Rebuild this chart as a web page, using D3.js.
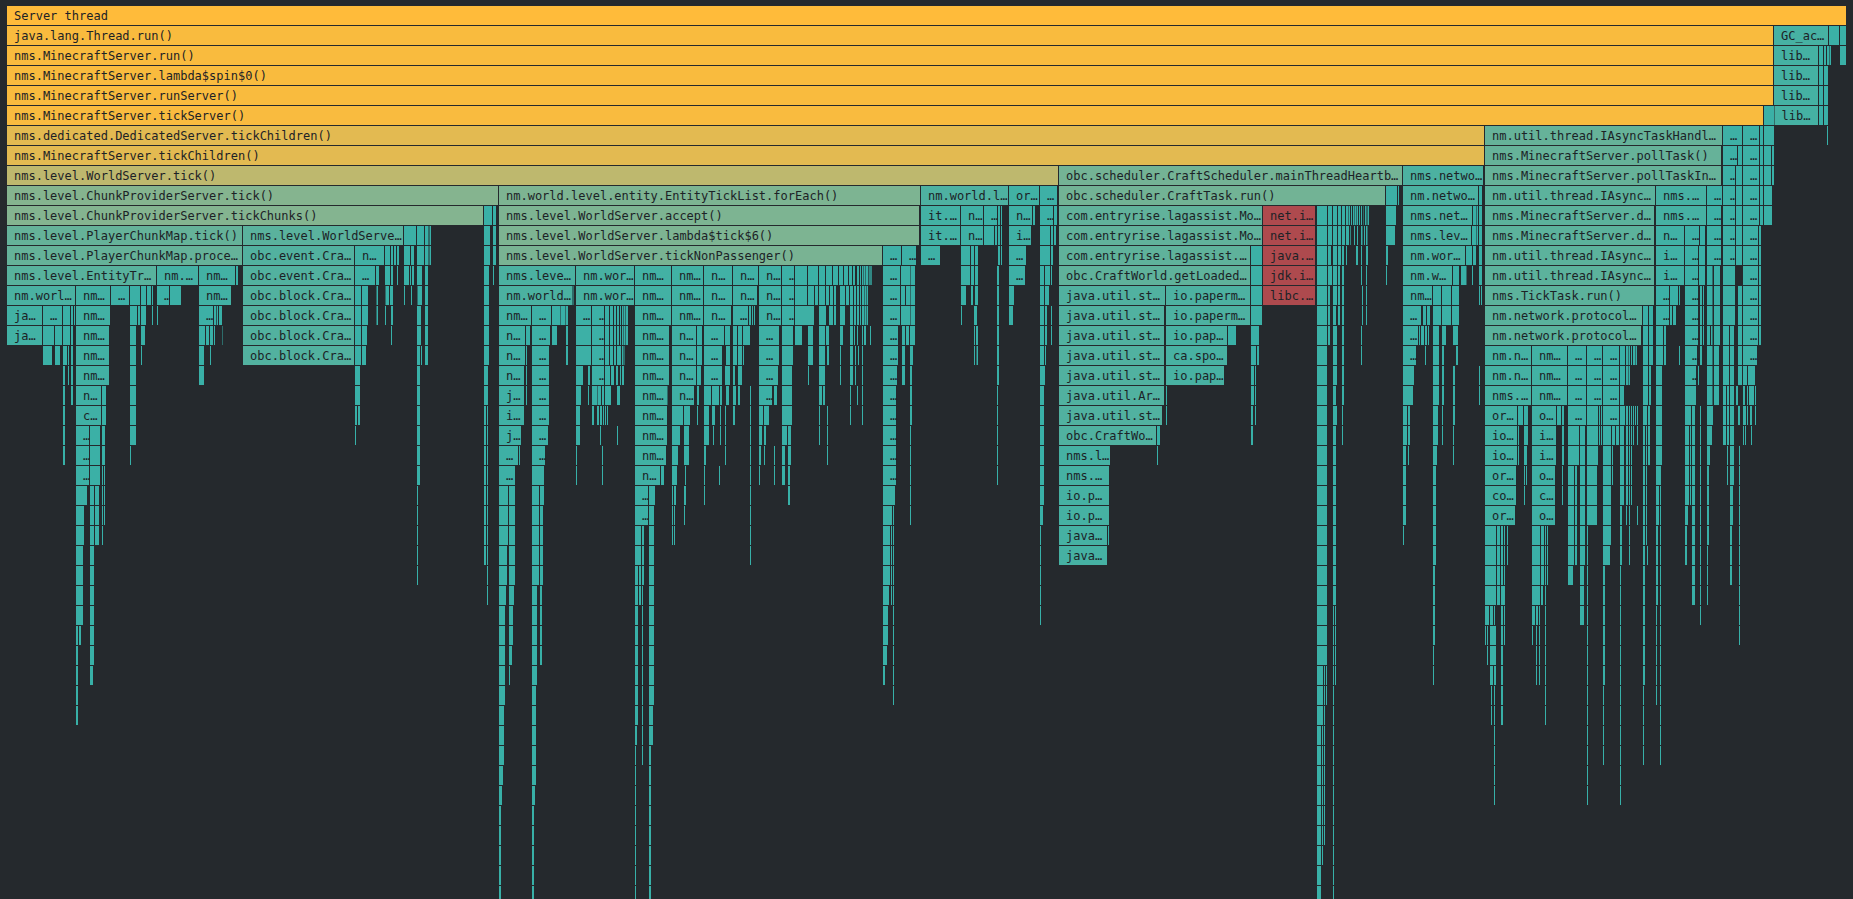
<!DOCTYPE html>
<html>
<head>
<meta charset="utf-8">
<title>Flame graph</title>
<script src="https://cdn.jsdelivr.net/npm/d3@7"></script>
<style>
  html, body { margin: 0; padding: 0; background: #25292d; overflow: hidden; }
  svg { display: block; }
</style>
</head>
<body>
<svg id="flame"></svg>
<script>
// one list per stack depth: [first sample, last sample, label]
const totalSamples = 1839

const row00 = [[0,1839,"Server thread"]]
const row01 = [[0,1766,"java.lang.Thread.run()"],[1767,1821,"GC_ac…"],[1822,1832],[1833,1839]]
const row02 = [[0,1766,"nms.MinecraftServer.run()"],[1767,1811,"lib…"],[1812,1816],[1817,1819],[1820,1822],[1822.5,1824],[1833,1839]]
const row03 = [[0,1766,"nms.MinecraftServer.lambda$spin$0()"],[1767,1811,"lib…"],[1812,1816],[1817,1821]]
const row04 = [[0,1766,"nms.MinecraftServer.runServer()"],[1767,1811,"lib…"],[1812,1816],[1817,1821]]
const row05 = [[0,1756,"nms.MinecraftServer.tickServer()"],[1757,1767],[1767.5,1811,"lib…"],[1812,1816],[1817,1821]]
const row06 = [[0,1477,"nms.dedicated.DedicatedServer.tickChildren()"],[1478,1715,"nm.util.thread.IAsyncTaskHandl…"],[1716,1735,"…"],[1736,1752,"…"],[1753,1756],[1757,1767],[1820,1821]]
const row07 = [[0,1477,"nms.MinecraftServer.tickChildren()"],[1478,1714,"nms.MinecraftServer.pollTask()"],[1716,1730,"…"],[1731,1735],[1736,1752,"…"],[1753,1756],[1757,1764],[1765,1767]]
const row08 = [[0,1051,"nms.level.WorldServer.tick()"],[1052,1395,"obc.scheduler.CraftScheduler.mainThreadHeartb…"],[1396,1476,"nms.netwo…"],[1478,1714,"nms.MinecraftServer.pollTaskIn…"],[1716,1728,"…"],[1729,1735],[1736,1752,"…"],[1753,1756],[1757,1764],[1765,1767]]
const row09 = [[0,491,"nms.level.ChunkProviderServer.tick()"],[492,913,"nm.world.level.entity.EntityTickList.forEach()"],[914,1001,"nm.world.l…"],[1002,1032,"or…"],[1033,1050,"…"],[1052,1378,"obc.scheduler.CraftTask.run()"],[1379,1390],[1391,1392],[1396,1471,"nm.netwo…"],[1472,1475],[1478,1648,"nm.util.thread.IAsync…"],[1649,1699,"nms.…"],[1700,1715,"…"],[1716,1728,"…"],[1729,1735],[1736,1752,"…"],[1753,1756],[1757,1765]]
const row10 = [[0,476,"nms.level.ChunkProviderServer.tickChunks()"],[477,485],[486,489],[492,912,"nms.level.WorldServer.accept()"],[914,953,"it.…"],[954,976,"n…"],[977,990,"…"],[991,993],[994,995],[1002,1025,"n…"],[1026,1028],[1033,1046,"…"],[1047,1050],[1052,1255,"com.entryrise.lagassist.Mo…"],[1256,1308,"net.i…"],[1310,1320],[1321,1325],[1326,1330],[1331,1334],[1335,1338],[1339,1341],[1341.5,1343],[1344,1345],[1346,1347.5],[1348,1349.5],[1350,1351],[1352,1353],[1354,1355],[1356,1356.5],[1358,1359],[1359.5,1360.5],[1361,1362],[1379,1389],[1396,1465,"nms.net…"],[1466,1469],[1469.5,1471],[1472,1475],[1478,1647,"nms.MinecraftServer.d…"],[1649,1699,"nms.…"],[1700,1714,"…"],[1716,1728,"…"],[1729,1735],[1736,1752,"…"],[1753,1756],[1757,1765]]
const row11 = [[0,235,"nms.level.PlayerChunkMap.tick()"],[236,396,"nms.level.WorldServe…"],[397,409],[410,417],[418,421],[421.5,422.5],[423,424],[477,483],[486,489],[492,912,"nms.level.WorldServer.lambda$tick$6()"],[914,953,"it.…"],[954,976,"n…"],[977,987],[988,990],[991,993],[994,995],[1002,1024,"i…"],[1033,1043],[1044,1046],[1047,1049],[1052,1255,"com.entryrise.lagassist.Mo…"],[1256,1308,"net.i…"],[1310,1320],[1321,1325],[1326,1330],[1331,1334],[1335,1338],[1339,1342],[1343,1343.7],[1347,1348],[1350,1351],[1354,1355.5],[1357,1358],[1359,1360.5],[1379,1388],[1396,1464,"nms.lev…"],[1465,1469],[1469.5,1471],[1472,1475],[1478,1647,"nms.MinecraftServer.d…"],[1649,1677,"n…"],[1678,1692,"…"],[1693,1698],[1700,1714,"…"],[1716,1728,"…"],[1729,1735],[1736,1751,"…"],[1752,1754]]
const row12 = [[0,235,"nms.level.PlayerChunkMap.proce…"],[236,347,"obc.event.Cra…"],[348,377,"n…"],[378,383],[384,386],[387,389],[390,392],[397,403],[404,407],[410,417],[418,421],[421.5,422.5],[423,424],[477,483],[486,489],[492,875,"nms.level.WorldServer.tickNonPassenger()"],[876,894,"…"],[895,909,"…"],[914,933,"…"],[954,963],[964,967],[968,971],[991,993],[994,995],[1002,1019,"…"],[1033,1043],[1044,1046],[1052,1243,"com.entryrise.lagassist.…"],[1244,1255],[1256,1308,"java.…"],[1310,1320],[1321,1324],[1326,1330],[1331,1334],[1335,1337],[1339,1340],[1349,1351],[1354,1355],[1359,1361],[1379,1381],[1396,1458,"nm.wor…"],[1459,1465],[1466,1469],[1472,1475],[1478,1647,"nm.util.thread.IAsync…"],[1649,1677,"i…"],[1678,1691,"…"],[1692,1698],[1700,1714,"…"],[1716,1728,"…"],[1729,1735],[1736,1751,"…"],[1752,1754]]
const row13 = [[0,149,"nms.level.EntityTr…"],[150,191,"nm.…"],[192,228,"nm…"],[229,231],[236,347,"obc.event.Cra…"],[348,368,"…"],[369,372],[378,383],[384,386],[390,391],[397,402],[403,404],[405,407],[410,415],[418,421],[477,482],[486,487],[492,568,"nms.leve…"],[569,627,"nm.wor…"],[628,664,"nm…"],[665,696,"nm…"],[697,725,"n…"],[726,751,"n…"],[752,774,"n…"],[775,787,"…"],[788,800],[801,811],[812,818],[819,825],[826,831],[832,836],[837,841],[842,845],[846,848],[850,852],[853,854],[855,856.5],[857,858.5],[859,861],[861.7,862.7],[863.3,864.7],[876,893,"…"],[894,903],[903.5,908],[954,963],[964,967],[968,971],[990,992],[1002,1018,"…"],[1033,1037],[1038,1043],[1044,1045],[1052,1243,"obc.CraftWorld.getLoaded…"],[1244,1255],[1256,1308,"jdk.i…"],[1310,1320],[1321,1325],[1326,1330],[1331,1333],[1335,1337],[1354,1355],[1359,1360],[1379,1380],[1396,1445,"nm.w…"],[1446,1452],[1454,1459],[1459.5,1460],[1465,1466],[1472,1475],[1478,1647,"nm.util.thread.IAsync…"],[1649,1677,"i…"],[1678,1691,"…"],[1692,1698],[1700,1705.5],[1707,1713],[1716,1728],[1736,1751,"…"],[1752,1754]]
const row14 = [[0,68,"nm.worl…"],[69,103,"nm…"],[104,122,"…"],[123,133],[134,139],[140,144],[145,146],[150,162,"…"],[163,174],[192,224,"nm…"],[236,347,"obc.block.Cra…"],[348,354],[355,361],[369.5,371],[378.5,382],[383,386],[397,398],[404,405],[410.5,415],[418,421],[477,482],[492,565,"nm.world…"],[565.5,566.5],[569,627,"nm.wor…"],[628,664,"nm…"],[665,696,"nm…"],[697,725,"n…"],[726,750,"n…"],[752,774,"n…"],[775,787,"…"],[788,800],[801,807],[808,811],[812,818],[819,822],[823,826],[827,829],[833,838],[839,842],[843,846],[847,849],[850,852],[853,854],[855,857],[857.5,859],[859.5,861],[876,893,"…"],[894,898],[899,903],[903.5,908],[954,959],[964,966],[968,971],[990,992],[1002,1007],[1033,1037],[1038,1042],[1052,1158,"java.util.st…"],[1159,1243,"io.paperm…"],[1244,1255],[1256,1308,"libc.…"],[1310,1320],[1321,1323],[1326,1330],[1331,1333],[1335,1337],[1355,1356],[1359,1360],[1396,1425,"nm…"],[1426,1434],[1435,1444],[1445,1452],[1472,1473],[1474,1475],[1478,1647,"nms.TickTask.run()"],[1649,1662,"…"],[1663,1671],[1672,1673],[1678,1691,"…"],[1693,1695],[1696,1697],[1700,1705.5],[1707,1713],[1716,1728],[1731,1735],[1736,1751,"…"],[1752,1754]]
const row15 = [[0,35,"ja…"],[36,55,"…"],[56,63],[64,66],[67,68],[69,103,"nm…"],[123,130],[131,133],[134,139],[145,146],[150,151],[192,206,"…"],[207,209],[209.7,211],[212,215],[236,347,"obc.block.Cra…"],[348,354],[355,361],[369.5,371],[378,379],[384,386],[410,414],[418,421],[477,482],[492,524,"nm…"],[525,544,"…"],[545,553],[553.5,558],[558.5,561],[569,584,"…"],[585,597,"…"],[598,602],[603,606],[607,609],[610,612],[613,614],[615,616],[616.5,618],[618.5,621],[628,664,"nm…"],[665,696,"nm…"],[697,724,"n…"],[726,741,"…"],[742,744],[745,746],[747,748],[752,774,"n…"],[775,787,"…"],[788,807],[812,819],[822,826],[827,829],[833,838],[843,846],[847,849],[850,852],[853,854],[855,857],[857.5,859],[859.5,861],[876,893,"…"],[894,903],[903.5,908],[954,955],[967,970],[990,992],[1002,1006],[1033,1037],[1038,1040],[1044,1045],[1052,1157,"java.util.st…"],[1159,1243,"io.paperm…"],[1244,1255],[1310,1320],[1321,1323],[1326,1329],[1331,1333],[1335,1337],[1355,1356],[1359,1360],[1396,1414,"…"],[1416,1419],[1420,1423],[1426,1434],[1435,1444],[1445,1452],[1478,1635,"nm.network.protocol…"],[1636,1641],[1642,1646],[1649,1662,"…"],[1663,1665],[1666,1669],[1678,1691,"…"],[1693,1695],[1696,1697],[1700,1705.5],[1707,1713],[1716,1728],[1731,1735],[1736,1751,"…"],[1752,1754]]
const row16 = [[0,35,"ja…"],[36,47],[48,55],[56,63],[64,66],[69,102,"nm…"],[123,129],[134,138],[192,198],[199,202],[203,206],[207,208],[215.5,216],[236,347,"obc.block.Cra…"],[348,354],[355,360],[384,385],[410,414],[418,421],[477,482],[492,518,"n…"],[519,523],[525,543,"…"],[545,550],[559,561],[569,584],[585,597,"…"],[598,602],[603,606],[607,609],[610,612],[613,614],[615,616],[616.5,618],[618.5,621],[628,662,"nm…"],[665,689,"n…"],[690,695],[697,717,"…"],[718,723],[726,730],[731,735],[736,743],[752,772,"…"],[775,786],[788,795],[801,806],[812,818],[819,822],[833,836],[843,846],[847,848],[850,851],[855,856],[857,859],[863,864],[876,891,"…"],[895,898],[899,902],[903,908],[967,968],[969,971],[990,992],[1033,1037],[1038,1040],[1044,1045],[1052,1157,"java.util.st…"],[1159,1220,"io.pap…"],[1221,1229],[1244,1252],[1310,1320],[1321,1323],[1326,1330],[1335,1337],[1354,1355],[1396,1411,"…"],[1412,1413],[1414,1417],[1418,1420],[1421,1422],[1426,1432],[1435,1439],[1446,1451],[1478,1634,"nm.network.protocol…"],[1636,1641],[1642,1646],[1649,1656],[1657,1659],[1678,1691,"…"],[1693,1695],[1696,1697],[1700,1703],[1704,1705.5],[1707,1713],[1716,1722],[1723,1727],[1731,1735],[1736,1751,"…"],[1752,1754]]
const row17 = [[36,45],[48,53],[56,60],[61,62],[64,66],[69,102,"nm…"],[123,129],[134,135],[192,197],[203,204],[236,347,"obc.block.Cra…"],[348,354],[355,359],[410,413],[414,415],[418,421],[477,482],[492,518,"n…"],[519,520],[525,542,"…"],[559,561],[569,584],[585,597,"…"],[598,602],[603,606],[607,609],[610,614],[615,616],[616.5,617.5],[628,662,"nm…"],[665,689,"n…"],[690,695],[697,715,"…"],[719,723],[726,730],[731,735],[736,737],[752,772,"…"],[775,786],[801,806],[812,818],[820,822],[833,834],[843,846],[848,849],[851,852],[855,856],[876,891,"…"],[895,898],[903,906],[967,968],[969.5,971],[990,992],[1033,1037],[1038,1039],[1052,1157,"java.util.st…"],[1159,1220,"ca.spo…"],[1244,1249],[1250,1252],[1310,1320],[1326,1330],[1335,1337],[1354,1355],[1396,1409,"…"],[1418,1419],[1426,1432],[1435,1437],[1449,1451],[1478,1524,"nm.n…"],[1525,1560,"nm…"],[1561,1579,"…"],[1580,1595,"…"],[1596,1612,"…"],[1613,1618],[1619,1621],[1621.5,1623],[1624,1625],[1626,1628],[1628.5,1630],[1636,1641],[1642,1646],[1649,1656],[1657,1659],[1672,1673],[1678,1690,"…"],[1693,1695],[1700,1705.5],[1707,1712],[1716,1722],[1723,1727],[1731,1735],[1736,1750,"…"]]
const row18 = [[56,58],[61,62],[64,66],[69,102,"nm…"],[123,129],[192,197],[348,353],[410,413],[477,481],[492,517,"n…"],[519,520],[525,542,"…"],[569,576],[581,583],[585,597,"…"],[598,603],[604,607],[609,611],[613,614],[615,617],[628,662,"nm…"],[665,689,"n…"],[690,694],[697,715,"…"],[718,723],[726,728],[731,735],[752,771,"…"],[775,785],[801,802],[812,818],[833,834],[843,846],[848,849],[855,856],[876,890,"…"],[895,898],[903,905],[990,992],[1033,1038],[1052,1157,"java.util.st…"],[1159,1217,"io.pap…"],[1244,1247],[1248,1249],[1310,1320],[1326,1330],[1335,1337],[1396,1407],[1426,1432],[1435,1437],[1446,1448],[1472,1473],[1478,1524,"nm.n…"],[1525,1560,"nm…"],[1561,1579,"…"],[1580,1595,"…"],[1596,1612,"…"],[1613,1618],[1619,1621],[1621.5,1623],[1636,1641],[1642,1644],[1649,1655],[1678,1689,"…"],[1691,1692],[1700,1705.5],[1707,1712],[1716,1722],[1723,1727],[1731,1735],[1736,1740],[1741,1748]]
const row19 = [[56,58],[64,66],[69,94,"n…"],[95,99],[123,129],[348,353],[410,413],[477,481],[492,517,"j…"],[519,520],[525,542,"…"],[569,574],[581,582],[585,590],[590.5,594],[595,597],[598,604],[610,613],[628,660,"nm…"],[660.5,661],[665,687,"n…"],[690,692],[697,704],[705,712],[713,715],[719,722],[726,729],[731,733],[743,744],[752,765,"…"],[767,770],[775,785],[812,815],[816,818],[843,844],[850,851],[855,856],[876,889,"…"],[903,905],[990,991],[1033,1037],[1052,1157,"java.util.Ar…"],[1159,1160],[1244,1247],[1248,1249],[1310,1320],[1326,1329],[1335,1337],[1396,1406],[1426,1432],[1435,1437],[1446,1448],[1472,1473],[1478,1524,"nms.…"],[1525,1560,"nm…"],[1561,1579,"…"],[1580,1595,"…"],[1596,1612,"…"],[1613,1617],[1636,1641],[1642,1644],[1649,1655],[1678,1689],[1700,1705.5],[1707,1712],[1716,1719],[1720,1722],[1723,1727],[1729,1731],[1736,1738],[1740,1741],[1742,1747],[1748,1749]]
const row20 = [[56,58],[69,94,"c…"],[95,99],[123,129],[348,350],[351,353],[410,413],[477,479],[480,481],[492,517,"i…"],[525,542,"…"],[569,573],[585,587],[590,592],[593,595],[596,597],[598,599],[600,601],[628,660,"nm…"],[665,676],[677,683],[690,691],[697,702],[705,708],[713,714],[718,719],[726,728],[743,744],[752,756],[757,762],[775,785],[812,813],[820,821],[843,844],[855,856],[876,889,"…"],[903,905],[990,991],[1033,1037],[1052,1155,"java.util.st…"],[1159,1160],[1244,1246],[1248,1249],[1310,1320],[1326,1330],[1335,1336],[1396,1400],[1401,1403],[1426,1431],[1435,1436],[1446,1448],[1478,1510,"or…"],[1511,1516],[1517,1521],[1525,1549,"o…"],[1550,1554],[1555,1557],[1561,1579,"…"],[1580,1591],[1592,1593],[1594,1595],[1596,1612,"…"],[1613,1618],[1619,1621],[1622,1623],[1624,1625],[1626,1627],[1628,1629],[1630,1631],[1636,1640],[1641,1643],[1649,1655],[1678,1684],[1685,1688],[1693,1694],[1700,1706],[1716,1719],[1720,1722],[1723,1727],[1731,1733],[1736,1739],[1740,1741],[1743,1745],[1748,1749]]
const row21 = [[56,58],[69,82,"…"],[83,93],[95,98],[123,129],[348,349],[410,413],[477,479],[480,481],[492,514,"j…"],[525,541,"…"],[569,573],[593,594],[610,611],[628,660,"nm…"],[665,673],[677,682],[697,702],[706,707],[713,714],[718,719],[743,744],[752,755],[757,759],[775,780],[781,784],[812,813],[820,821],[876,889,"…"],[903,904],[990,991],[1033,1037],[1052,1149,"obc.CraftWo…"],[1150,1153],[1244,1246],[1310,1320],[1326,1329],[1335,1336],[1396,1400],[1401,1403],[1426,1431],[1435,1436],[1446,1447],[1478,1510,"io…"],[1511,1512],[1517,1521],[1525,1549,"i…"],[1555,1557],[1561,1572],[1573,1578],[1580,1591],[1592,1593],[1594,1595],[1596,1604],[1605,1608],[1609,1612],[1613,1617],[1619,1621],[1622,1623],[1624,1625],[1626,1627],[1630,1631],[1636,1638],[1639,1640],[1641,1643],[1649,1655],[1678,1682],[1683,1684],[1685,1688],[1693,1694],[1700,1705],[1716,1719],[1720,1722],[1723,1727],[1736,1737],[1738,1739],[1744,1745]]
const row22 = [[56,58],[69,82,"…"],[83,93],[95,98],[123,124],[410,413],[477,479],[480,481],[492,511,"…"],[512,513],[525,538,"…"],[569,570],[595,596],[628,659,"nm…"],[665,671],[677,682],[697,699],[718,719],[743,744],[752,754],[757,758],[767,768],[775,778],[781,784],[820,821],[876,889,"…"],[903,904],[990,991],[1033,1037],[1052,1103,"nms.l…"],[1150,1151],[1310,1320],[1326,1329],[1396,1399],[1401,1402],[1426,1430],[1446,1447],[1478,1510,"io…"],[1511,1512],[1517,1520],[1525,1549,"i…"],[1555,1557],[1561,1572],[1573,1578],[1580,1591],[1596,1604],[1605,1606],[1613,1617],[1619,1621],[1622,1623],[1624,1625],[1636,1638],[1639,1640],[1641,1643],[1649,1655],[1678,1682],[1683,1684],[1685,1688],[1693,1694],[1700,1703],[1720,1721],[1723,1727],[1732,1733]]
const row23 = [[69,82,"…"],[83,93],[95,96],[97,98],[410,413],[477,479],[480,481],[492,508,"…"],[525,537],[569,570],[595,596],[628,653,"n…"],[654,657],[665,670],[678,679],[697,698],[712,713],[743,744],[752,753],[767,768],[775,778],[781,783],[876,889,"…"],[903,904],[990,991],[1033,1037],[1052,1102,"nms.…"],[1310,1320],[1326,1329],[1396,1399],[1426,1429],[1478,1509,"or…"],[1517,1518],[1519,1520],[1525,1548,"o…"],[1555,1556],[1561,1567],[1568,1570],[1573,1578],[1580,1590],[1596,1604],[1605,1606],[1613,1617],[1619,1621],[1622,1623],[1624,1625],[1636,1638],[1639,1640],[1649,1654],[1678,1682],[1683,1684],[1685,1688],[1693,1694],[1700,1702],[1720,1721],[1723,1727],[1732,1733]]
const row24 = [[69,80],[83,87],[88,92],[95,96],[97,98],[410,411],[477,479],[480,481],[492,501],[502,508],[525,532],[533,537],[628,641,"…"],[642,648],[665,666],[667,669],[677,679],[697,698],[743,744],[781,783],[876,888],[903,904],[1033,1037],[1052,1102,"io.p…"],[1310,1320],[1326,1329],[1396,1399],[1426,1429],[1478,1509,"co…"],[1517,1518],[1525,1548,"c…"],[1555,1556],[1561,1567],[1568,1570],[1573,1578],[1580,1590],[1596,1604],[1613,1617],[1619,1621],[1622,1623],[1624,1625],[1636,1638],[1639,1640],[1649,1652],[1653,1654],[1678,1682],[1683,1684],[1685,1688],[1693,1694],[1700,1702],[1723,1726],[1732,1733]]
const row25 = [[69,77],[83,87],[88,92],[95,96],[97,98],[410,411],[477,479],[480,481],[492,501],[502,508],[525,532],[533,536],[628,641,"…"],[642,647],[665,666],[667,668],[677,678],[743,744],[876,885],[886,887],[903,904],[1033,1036],[1052,1102,"io.p…"],[1310,1320],[1326,1329],[1396,1399],[1426,1429],[1478,1508,"or…"],[1525,1548,"o…"],[1561,1567],[1568,1570],[1573,1578],[1580,1590],[1596,1604],[1613,1615],[1619,1620],[1622,1623],[1630,1631],[1636,1638],[1639,1640],[1649,1652],[1653,1654],[1678,1681],[1685,1688],[1693,1694],[1700,1702],[1723,1726],[1732,1733]]
const row26 = [[69,77],[83,87],[88,92],[95,96],[410,411],[477,479],[480,481],[492,501],[502,508],[525,532],[533,536],[628,634],[635,637],[642,647],[665,666],[667,668],[743,744],[876,883],[884,885],[886,887],[1033,1034],[1052,1100,"java…"],[1101,1102],[1310,1320],[1326,1329],[1396,1397],[1426,1429],[1478,1489],[1490,1493],[1494,1496],[1497,1498],[1500,1501],[1525,1533],[1534,1537],[1538,1539],[1540,1541],[1561,1567],[1568,1570],[1573,1578],[1580,1581],[1596,1604],[1613,1615],[1622,1623],[1636,1638],[1639,1640],[1649,1651],[1653,1654],[1678,1680],[1685,1688],[1693,1694],[1700,1702],[1723,1725],[1732,1733]]
const row27 = [[69,76],[83,87],[410,411],[477,479],[480,481],[492,500],[502,508],[525,532],[533,536],[628,634],[635,637],[642,647],[743,744],[876,883],[884,885],[886,887],[1033,1034],[1052,1100,"java…"],[1310,1320],[1326,1329],[1426,1429],[1478,1489],[1490,1493],[1494,1496],[1497,1498],[1500,1501],[1525,1533],[1534,1537],[1538,1539],[1540,1541],[1561,1567],[1568,1570],[1573,1578],[1580,1581],[1596,1603],[1613,1615],[1622,1623],[1636,1638],[1640,1641],[1649,1651],[1653,1654],[1678,1680],[1685,1688],[1693,1694],[1700,1701],[1723,1725],[1732,1733]]
const row28 = [[69,76],[83,87],[410,411],[480,481],[492,500],[502,508],[525,532],[533,536],[628,631],[632,634],[635,637],[642,647],[876,883],[884,885],[886,887],[1033,1034],[1310,1320],[1326,1329],[1426,1428],[1478,1489],[1490,1493],[1494,1496],[1497,1498],[1525,1533],[1534,1537],[1538,1539],[1540,1541],[1561,1566],[1573,1577],[1580,1581],[1596,1598],[1613,1614],[1636,1638],[1649,1651],[1653,1654],[1685,1688],[1693,1694],[1700,1701],[1723,1725],[1732,1733]]
const row29 = [[69,76],[83,87],[480,481],[492,499],[502,507],[525,530],[533,535],[628,631],[632,634],[635,636],[642,647],[876,882],[884,885],[886,887],[1033,1034],[1310,1320],[1326,1329],[1426,1428],[1478,1489],[1490,1493],[1494,1498],[1525,1533],[1534,1536],[1538,1539],[1573,1577],[1580,1581],[1596,1598],[1613,1614],[1636,1638],[1649,1651],[1653,1654],[1685,1688],[1693,1694],[1700,1701],[1732,1733]]
const row30 = [[69,76],[83,87],[492,498],[502,506],[525,530],[533,535],[628,631],[635,636],[642,647],[876,881],[886,887],[1033,1034],[1310,1320],[1326,1327],[1328,1329],[1426,1428],[1478,1482],[1483,1486],[1487,1488],[1494,1496],[1497,1498],[1525,1528],[1529,1531],[1532,1533],[1538,1539],[1573,1577],[1580,1581],[1596,1598],[1613,1614],[1636,1638],[1649,1650],[1653,1654],[1693,1694],[1732,1733]]
const row31 = [[69,71],[72,74],[83,87],[492,498],[502,506],[525,530],[533,535],[628,631],[635,636],[642,647],[876,881],[886,887],[1310,1320],[1326,1327],[1328,1329],[1426,1428],[1478,1479],[1480,1481],[1483,1489],[1494,1496],[1497,1498],[1525,1526],[1529,1530],[1532,1533],[1538,1539],[1580,1581],[1596,1598],[1613,1614],[1636,1638],[1649,1650],[1653,1654],[1732,1733]]
const row32 = [[69,71],[83,87],[492,498],[502,505],[525,530],[533,535],[628,631],[635,636],[642,647],[876,880],[886,887],[1310,1320],[1326,1327],[1328,1329],[1426,1427],[1480,1481],[1483,1489],[1494,1496],[1529,1530],[1532,1533],[1538,1539],[1580,1581],[1596,1598],[1613,1614],[1636,1638],[1649,1650],[1653,1654]]
const row33 = [[69,71],[83,86],[492,498],[502,503],[525,530],[628,631],[635,636],[642,647],[876,878],[886,887],[1310,1316],[1317,1318],[1319,1320],[1326,1327],[1328,1329],[1426,1427],[1483,1486],[1487,1489],[1494,1496],[1529,1530],[1532,1533],[1538,1539],[1580,1581],[1596,1598],[1613,1614],[1636,1638],[1649,1650],[1653,1654]]
const row34 = [[69,71],[492,498],[525,529],[628,631],[635,636],[642,647],[886,887],[1310,1316],[1317,1318],[1319,1320],[1326,1327],[1484,1485],[1487,1488],[1494,1496],[1538,1539],[1580,1581],[1596,1597],[1613,1614],[1636,1637],[1649,1650],[1653,1654]]
const row35 = [[69,71],[492,497],[525,529],[628,631],[635,636],[642,646],[1310,1316],[1317,1318],[1326,1327],[1484,1485],[1487,1488],[1494,1496],[1538,1539],[1580,1581],[1596,1597],[1613,1614],[1636,1637],[1653,1654]]
const row36 = [[492,497],[525,529],[628,630],[635,636],[642,646],[1310,1314],[1315,1316],[1317,1318],[1326,1327],[1487,1488],[1580,1581],[1596,1597],[1613,1614],[1636,1637],[1653,1654]]
const row37 = [[492,497],[525,529],[628,629],[635,636],[642,644],[1310,1314],[1315,1316],[1317,1318],[1326,1327],[1487,1488],[1580,1581],[1596,1597],[1613,1614],[1636,1637],[1653,1654]]
const row38 = [[492,496],[525,529],[628,629],[642,644],[1310,1314],[1315,1316],[1317,1318],[1326,1327],[1487,1488],[1580,1581],[1613,1614]]
const row39 = [[492,495],[525,528],[628,629],[642,644],[1310,1314],[1315,1316],[1317,1318],[1326,1327],[1487,1488],[1580,1581],[1613,1614]]
const row40 = [[492,494],[525,527],[628,629],[642,644],[1310,1314],[1315,1316],[1317,1318],[1326,1327]]
const row41 = [[492,494],[525,527],[628,629],[642,644],[1310,1314],[1315,1316],[1317,1318],[1326,1327]]
const row42 = [[492,494],[525,527],[628,629],[642,644],[1310,1314],[1315,1316],[1326,1327]]
const row43 = [[492,494],[525,527],[628,629],[642,644],[1310,1314],[1326,1327]]
const row44 = [[492,494],[525,527],[628,629],[642,644],[1310,1314],[1326,1327]]

const flameRows = [row00,row01,row02,row03,row04,row05,row06,row07,row08,row09,row10,row11,row12,row13,row14,row15,row16,row17,row18,row19,row20,row21,row22,row23,row24,row25,row26,row27,row28,row29,row30,row31,row32,row33,row34,row35,row36,row37,row38,row39,row40,row41,row42,row43,row44]

// frames that ran in native code are painted red
const nativeLabels = ["net.i…", "java.…", "jdk.i…", "libc.…"]

const width = 1853
const height = 899

var x = d3.scaleLinear().domain([0, totalSamples]).range([7, 1846])

var y = d3.scaleBand()
  .domain(d3.range(flameRows.length))
  .range([6, 6 + 20 * flameRows.length - 1])
  .paddingInner(0.05)

// wide frames run hot, thin ones stay teal
var heat = d3.scalePow().exponent(0.7).domain([0, 1]).range([0, 1])
var color = d3.scaleLinear()
  .domain([0, 0.4, 0.675, 1])
  .range(["#36b0a8", "#86b48f", "#beb86e", "#ffbb3a"])

var frames = flameRows.flatMap((row, depth) => row.map(d => ({
  depth: depth, start: d[0], end: d[1], label: d[2]
})))

var svg = d3.select("#flame")
  .attr("width", width)
  .attr("height", height)

var g = svg.selectAll("g")
  .data(frames)
  .enter().append("g")
    .attr("transform", d => `translate(${x(d.start)},${y(d.depth)})`)

g.append("rect")
  .attr("width", d => x(d.end) - x(d.start))
  .attr("height", y.bandwidth())
  .attr("fill", d => nativeLabels.includes(d.label)
    ? "#ae4a4e"
    : color(heat((d.end - d.start) / totalSamples)))

g.filter(d => d.label)
  .append("text")
    .attr("x", 7)
    .attr("y", 13.5)
    .attr("fill", "#1c2226")
    .style("font", "12px 'DejaVu Sans Mono', monospace")
    .text(d => d.label)
</script>
</body>
</html>
